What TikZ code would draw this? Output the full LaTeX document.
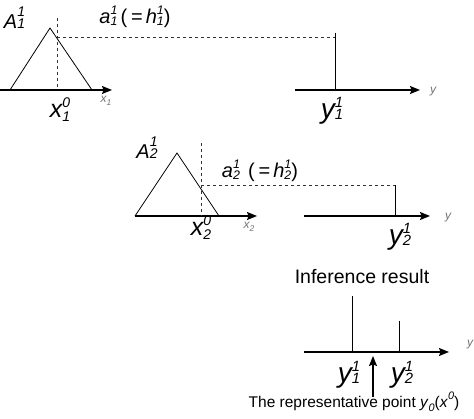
\documentclass[tikz,border=0pt]{standalone}
\usepackage{fontspec}
\setmainfont{Liberation Sans}
\usetikzlibrary{arrows.meta}
% #1 scale, #2 sub lower, #3 sup raise, #4 sub, #5 sup
\newcommand\SbSp[5]{\rlap{\raisebox{#3}{\scalebox{#1}{#5}}}\raisebox{-#2}{\scalebox{#1}{#4}}}
\newcommand\IdA[2]{\SbSp{0.7}{0.03em}{0.56em}{#1}{#2}}
\newcommand\IdY[2]{\SbSp{0.53}{0.03em}{0.38em}{#1}{#2}}
\newcommand\IdX[2]{\SbSp{0.56}{0.16em}{0.4em}{#1}{#2}}
\newcommand\IdS[2]{\SbSp{0.62}{0.1em}{0.42em}{#1}{#2}}
\newcommand\Sb[1]{\raisebox{-0.3em}{\scalebox{0.7}{#1}}}
\newcommand\Sp[1]{\raisebox{0.5em}{\scalebox{0.7}{#1}}}
\begin{document}
\begin{tikzpicture}[x=1pt,y=-1pt,
  thinline/.style={line width=0.8pt},
  axis/.style={line width=1.3pt,-{Stealth[length=10pt,width=8pt,inset=1.5pt]}},
  dotline/.style={line width=0.8pt,dash pattern=on 3pt off 3pt,black!80},
  alab/.style={font=\fontsize{20}{20}\selectfont\itshape,inner sep=0pt},
  ylab/.style={font=\fontsize{28}{28}\selectfont\itshape,inner sep=0pt},
  xlab/.style={font=\fontsize{25}{25}\selectfont\itshape,inner sep=0pt},
  hlab/.style={font=\fontsize{20}{20}\selectfont\itshape,inner sep=0pt},
  axlab/.style={font=\fontsize{12}{12}\selectfont\itshape,text=black!55,inner sep=0pt},
  txtlab/.style={font=\fontsize{19.5}{19.5}\selectfont,inner sep=0pt}]
\useasboundingbox (0,0) rectangle (474,419);
% ---------- panel 1
\coordinate (t1l) at (10,90);
\coordinate (t1a) at (50,28);
\coordinate (t1r) at (92,90);
\coordinate (ax1s) at (0,90);
\coordinate (ax1e) at (112,90);
\coordinate (d1t) at (57,18);
\coordinate (d1b) at (57,90);
\coordinate (h1s) at (57,37);
\coordinate (h1e) at (335,37);
\coordinate (v1t) at (335,33);
\coordinate (v1b) at (335,90);
\coordinate (r1s) at (295,90);
\coordinate (r1e) at (420,90);
\draw[thinline] (t1l) -- (t1a) -- (t1r);
\draw[axis] (ax1s) -- (ax1e);
\draw[dotline] (d1t) -- (d1b);
\draw[dotline] (h1s) -- (h1e);
\draw[thinline] (v1t) -- (v1b);
\draw[axis] (r1s) -- (r1e);
\node[alab] (A1) at (14.5,18) {A\IdA{1}{1}};
\node[hlab] (a1) at (135,17) {a\IdS{1}{1}\kern3pt{\upshape(}\kern4pt{\upshape=}\kern3pt h\IdS{1}{1}{\upshape)}};
\node[xlab] (x10) at (60,110) {x\IdX{1}{0}};
\node[axlab] (x1) at (106,101) {x\Sb{1}};
\node[ylab] (y11) at (332,111) {y\IdY{1}{1}};
\node[axlab] (ya) at (433,92) {y};
% ---------- panel 2
\coordinate (t2l) at (135,216);
\coordinate (t2a) at (177,153);
\coordinate (t2r) at (219,216);
\coordinate (ax2e) at (257,216);
\coordinate (d2t) at (201,143);
\coordinate (d2b) at (201,216);
\coordinate (h2s) at (201,185);
\coordinate (h2e) at (395,185);
\coordinate (v2b) at (395,216);
\coordinate (r2s) at (304,216);
\coordinate (r2e) at (430,216);
\draw[thinline] (t2l) -- (t2a) -- (t2r);
\draw[axis] (t2l) -- (ax2e);
\draw[dotline] (d2t) -- (d2b);
\draw[dotline] (h2s) -- (h2e);
\draw[thinline] (h2e) -- (v2b);
\draw[axis] (r2s) -- (r2e);
\node[alab] (A2) at (147,148) {A\IdA{2}{1}};
\node[hlab] (a2) at (260,171) {a\IdS{2}{1}\kern8pt{\upshape(}\kern4pt{\upshape=}\kern3pt h\IdS{2}{1}{\upshape)}};
\node[xlab] (x20) at (201,228) {x\IdX{2}{0}};
\node[axlab] (x2) at (249,227) {x\Sb{2}};
\node[ylab] (y21) at (400,237) {y\IdY{2}{1}};
\node[axlab] (yb) at (448,218) {y};
% ---------- panel 3
\coordinate (r3s) at (304,352);
\coordinate (r3e) at (449,352);
\coordinate (p1t) at (352,296);
\coordinate (p1b) at (352,352);
\coordinate (p2t) at (399,321);
\coordinate (p2b) at (399,352);
\draw[axis] (r3s) -- (r3e);
\draw[line width=1pt] (p1t) -- (p1b);
\draw[thinline] (p2t) -- (p2b);
\node[txtlab] (inf) at (362,277) {Inference result};
\node[ylab] (y11b) at (349,375) {y\IdY{1}{1}};
\node[ylab] (y21b) at (402,375) {y\IdY{2}{1}};
\node[axlab] (yc) at (470,345) {y};
\node[font=\fontsize{15.5}{15.5}\selectfont,inner sep=0pt] (rep) at (354,402) {The representative point \textit{y}\Sb{\itshape 0}(\textit{x}\Sp{\itshape 0})};
\coordinate (arb) at (373,397);
\coordinate (art) at (373,356);
\draw[line width=1.2pt,-{Stealth[length=10pt,width=8pt,inset=1.5pt]}] (arb) -- (art);
\end{tikzpicture}
\end{document}
